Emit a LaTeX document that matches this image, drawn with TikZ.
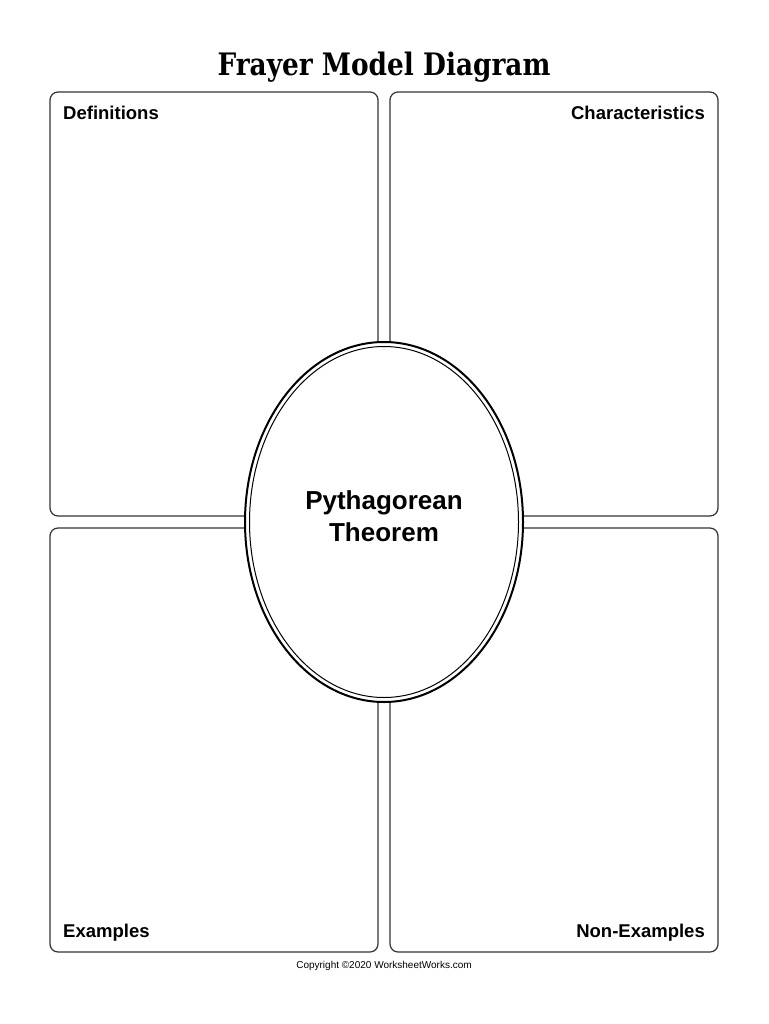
\documentclass[tikz,border=0pt]{standalone}
\usepackage{fontspec}
\usepackage{graphicx}
\setmainfont{Liberation Serif}
\setsansfont{Liberation Sans}
\newfontfamily\titlefont{DejaVu Serif}
\usetikzlibrary{shapes.geometric}
\begin{document}
\begin{tikzpicture}[x=1pt,y=-1pt,
  quad/.style={draw=black!80,line width=1.2pt,rounded corners=8pt},
  lbl/.style={font=\sffamily\bfseries\fontsize{18.5}{22}\selectfont,inner sep=0pt},
]
\useasboundingbox[fill=white] (0,0) rectangle (768,1024);
\node[inner sep=0pt,anchor=base] (title) at (384,76) {\resizebox{333pt}{23.5pt}{\titlefont\bfseries\fontsize{27}{32}\selectfont Frayer Model Diagram}};
\draw[quad] (50,92) rectangle (378,516);
\draw[quad] (390,92) rectangle (718,516);
\draw[quad] (50,528) rectangle (378,952);
\draw[quad] (390,528) rectangle (718,952);
\node[lbl,anchor=west] (def) at (63,112.5) {Definitions};
\node[lbl,anchor=east] (char) at (705,112.5) {Characteristics};
\node[lbl,anchor=west] (ex) at (63,932.5) {Examples};
\node[lbl,anchor=east] (nonex) at (705,932.5) {Non-Examples};
\draw[fill=white,line width=2pt] (384,522) ellipse [x radius=139,y radius=180];
\draw[line width=1pt] (384,522) ellipse [x radius=134.5,y radius=175.5];
\node[font=\sffamily\bfseries\fontsize{26}{32}\selectfont,align=center,inner sep=0pt] (topic) at (384,516) {Pythagorean\\Theorem};
\node[font=\sffamily\fontsize{10}{12}\selectfont,inner sep=0pt] (copy) at (384,966) {Copyright ©2020 WorksheetWorks.com};
\end{tikzpicture}
\end{document}
